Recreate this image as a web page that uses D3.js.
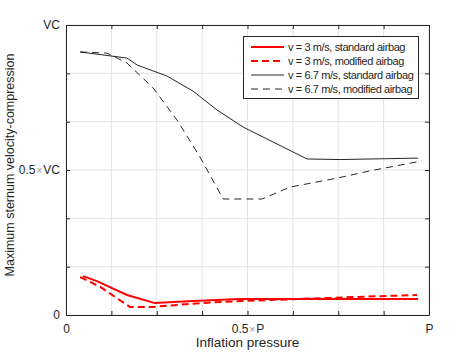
<!DOCTYPE html>
<html><head><meta charset="utf-8">
<script src="https://cdn.jsdelivr.net/npm/d3@7"></script>
<style>body{margin:0;background:#fff}svg{font-family:"Liberation Sans",Arial,sans-serif}</style>
</head><body><svg id="c" width="474" height="355"></svg>
<script>
// data (x as fraction of P, y as fraction of VC)
const xStd67 = [0.039,0.168,0.196,0.278,0.35,0.416,0.488,0.664,0.755,0.97];
const yStd67 = [0.907,0.886,0.862,0.824,0.772,0.707,0.648,0.538,0.536,0.541];
const xMod67 = [0.039,0.113,0.168,0.240,0.306,0.369,0.433,0.54,0.617,0.747,0.837,0.98];
const yMod67 = [0.907,0.903,0.869,0.783,0.672,0.545,0.400,0.400,0.441,0.472,0.497,0.531];
const xStd3 = [0.047,0.085,0.168,0.245,0.35,0.479,0.97];
const yStd3 = [0.134,0.117,0.069,0.041,0.048,0.055,0.055];
const xMod3 = [0.039,0.094,0.176,0.24,0.369,0.479,0.727,0.967];
const yMod3 = [0.131,0.097,0.028,0.028,0.041,0.048,0.059,0.069];
const xTickVals = [0,0.5,1];
const xTickLabels = [["0"],["0.5","P"],["P"]];
const yTickVals = [0,0.5,1];
const yTickLabels = [["0"],["0.5","VC"],["VC"]];
const seriesNames = ["v = 3 m/s, standard airbag","v = 3 m/s, modified airbag","v = 6.7 m/s, standard airbag","v = 6.7 m/s, modified airbag"];

const L=66,R=429,T=25,B=315;
const svg=d3.select("#c");
const x=d3.scaleLinear().domain([0,1]).range([L,R]);
const y=d3.scaleLinear().domain([0,1]).range([B,T]);
const axc="#262626";
// grid
const gx=d3.range(0,1.0001,0.125), gy=d3.range(0,1.0001,1/6);
svg.append("g").selectAll("line").data(gx).join("line")
 .attr("x1",d=>x(d)).attr("x2",d=>x(d)).attr("y1",T).attr("y2",B)
 .attr("stroke","#e3e3e3").attr("stroke-width",1);
svg.append("g").selectAll("line").data(gy).join("line")
 .attr("x1",L).attr("x2",R).attr("y1",d=>y(d)).attr("y2",d=>y(d))
 .attr("stroke","#e3e3e3").attr("stroke-width",1);
function style(g){g.select(".domain").attr("stroke",axc);g.selectAll(".tick line").attr("stroke",axc);
 g.selectAll("text").attr("fill",axc).style("font-size","12px");}
function labelTicks(g,vals,labels){
 g.selectAll(".tick text").each(function(d){
  const i=vals.findIndex(v=>Math.abs(v-d)<1e-6);
  const t=d3.select(this); t.text("");
  if(i<0) return;
  const parts=labels[i];
  t.append("tspan").text(parts[0]);
  if(parts.length>1){
   t.append("tspan").attr("fill","#9a9a9a").style("font-size","10.5px").text("\u200a\u00d7\u200a");
   t.append("tspan").text(parts[1]);
  }
 });
}
svg.append("g").attr("transform",`translate(0,${B})`)
 .call(d3.axisBottom(x).tickValues(gx).tickSize(-4).tickSizeOuter(0).tickPadding(9))
 .call(style).call(g=>labelTicks(g,xTickVals,xTickLabels));
svg.append("g").attr("transform",`translate(0,${T})`)
 .call(d3.axisTop(x).tickValues(gx).tickSize(-4).tickSizeOuter(0).tickFormat("")).call(style);
svg.append("g").attr("transform",`translate(${L},0)`)
 .call(d3.axisLeft(y).tickValues(gy).tickSize(-4).tickSizeOuter(0).tickPadding(6))
 .call(style).call(g=>labelTicks(g,yTickVals,yTickLabels));
svg.append("g").attr("transform",`translate(${R},0)`)
 .call(d3.axisRight(y).tickValues(gy).tickSize(-4).tickSizeOuter(0).tickFormat("")).call(style);
// lines
const line=d3.line().x(d=>x(d[0])).y(d=>y(d[1]));
const series=[
 {xs:xStd3,ys:yStd3,c:"#ff0000",w:2,dash:null},
 {xs:xMod3,ys:yMod3,c:"#ff0000",w:2,dash:"7,4"},
 {xs:xStd67,ys:yStd67,c:"#262626",w:1,dash:null},
 {xs:xMod67,ys:yMod67,c:"#262626",w:1,dash:"7,5"}];
series.forEach(s=>{
 svg.append("path").datum(d3.zip(s.xs,s.ys)).attr("d",line).attr("fill","none")
  .attr("stroke",s.c).attr("stroke-width",s.w).attr("stroke-dasharray",s.dash);
});
// legend
const lg=svg.append("g");
lg.append("rect").attr("x",243.5).attr("y",36.5).attr("width",175).attr("height",62)
 .attr("fill","#fff").attr("stroke",axc).attr("stroke-width",1);
series.forEach((s,i)=>{
 const yy=47+i*14;
 lg.append("line").attr("x1",251).attr("x2",284).attr("y1",yy).attr("y2",yy)
  .attr("stroke",s.c).attr("stroke-width",s.w).attr("stroke-dasharray",s.dash);
 lg.append("text").attr("x",288).attr("y",yy+4).text(seriesNames[i])
  .attr("fill",axc).style("font-size","11px").style("letter-spacing","-0.4px");
});
// axis labels
svg.append("text").attr("x",(L+R)/2).attr("y",347).attr("text-anchor","middle")
 .attr("fill",axc).style("font-size","13.5px").text("Inflation pressure");
svg.append("text").attr("transform",`translate(14,165) rotate(-90)`).attr("text-anchor","middle")
 .attr("fill",axc).style("font-size","12.5px").text("Maximum sternum velocity-compression");
</script></body></html>
